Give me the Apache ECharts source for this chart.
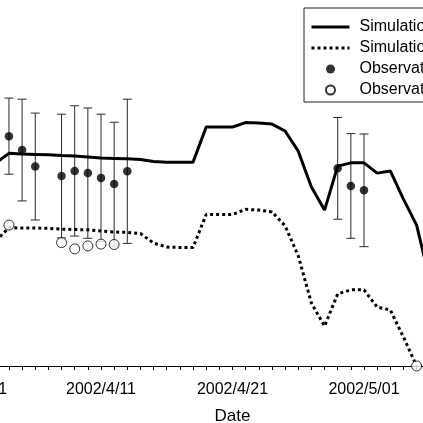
<!DOCTYPE html>
<html>
<head>
<meta charset="utf-8">
<script src="https://cdn.jsdelivr.net/npm/echarts@6/dist/echarts.min.js"></script>
<style>
html,body{margin:0;padding:0;background:#fff;}
#chart{width:423px;height:423px;}
</style>
</head>
<body>
<div id="chart"></div>
<script>
// Day numbers counted from 2002/4/0 (May 1 = 31)
const simDays = [3,4,5,6,7,8,9,10,11,12,13,14,15,16,17,18,19,20,21,22,23,24,25,26,27,28,29,30,31,32,33,34,35,36];
const sim1 = [55.5,58.1,57.9,57.8,57.7,57.5,57.4,57.1,56.8,56.7,56.6,56.4,55.9,55.7,55.7,55.7,65.3,65.3,65.3,66.5,66.4,66.1,64.2,58.7,48.9,42.6,54.6,55.5,55.5,52.7,53.3,45.6,38.5,23.5];
const sim2Days = [3,4,5,6,7,8,9,10,11,12,13,14,15,16,17,18,19,20,21,22,23,24,25,26,27,28,29,30,31,32,33,34,35];
const sim2 = [34.2,37.8,37.7,37.7,37.6,37.4,37.3,37.2,36.9,36.6,36.5,36.2,33.6,32.5,32.4,32.4,41.4,41.4,41.4,42.8,42.6,42.1,38.3,30.1,17.2,10.9,19.7,20.8,20.8,16.1,15.3,7.9,0];
const obs1Days = [4,5,6,8,9,10,11,12,13,29,30,31];
const obs1Mean = [62.8,59.0,54.5,51.9,53.3,52.7,51.4,49.7,53.2,54.0,49.2,48.0];
const obs1Err  = [10.4,13.9,14.6,16.9,17.8,17.8,17.4,16.9,19.7,13.9,14.3,15.4];
const obs2Days = [4,8,9,10,11,12,35];
const obs2Vals = [38.5,33.7,32.0,32.8,33.3,33.2,0];
const tickDays = [1,11,21,31,41];
const tickLabels = ['2002/4/1','2002/4/11','2002/4/21','2002/5/01','2002/5/11'];
const seriesNames = ['Simulation (irrigated)','Simulation (rainfed)','Observation (irrigated)','Observation (rainfed)'];

const FONT = "'Liberation Sans', Arial, sans-serif";
const zip = (a,b) => a.map((v,i)=>[v,b[i]]);
const errData = obs1Days.map((d,i)=>[d, obs1Mean[i]-obs1Err[i], obs1Mean[i]+obs1Err[i]]);

const chart = echarts.init(document.getElementById('chart'), null, {renderer:'canvas'});
chart.setOption({
  backgroundColor:'#ffffff',
  animation:false,
  grid:{left:-43.65, right:-85.65, top:0, bottom:57, containLabel:false, outerBoundsMode:'none'},
  legend:{
    orient:'vertical', left:304, top:8,
    padding:[11,6,4,6], itemGap:5, itemWidth:38, itemHeight:9,
    borderColor:'#222', borderWidth:1, backgroundColor:'#fff',
    textStyle:{fontFamily:FONT, fontSize:16, color:'#000', padding:[0,0,0,5]},
    data:[
      {name:seriesNames[0], itemStyle:{opacity:0}, lineStyle:{width:3, color:'#000'}},
      {name:seriesNames[1], itemStyle:{opacity:0}, lineStyle:{width:3, color:'#000', type:[3,3]}},
      {name:seriesNames[2]},
      {name:seriesNames[3]}
    ]
  },
  xAxis:{
    type:'value', min:0, max:42, interval:1,
    name:'Date', nameLocation:'middle', nameGap:42,
    nameTextStyle:{fontFamily:FONT, fontSize:17, color:'#000'},
    axisLine:{show:true, lineStyle:{color:'#000', width:1}},
    axisTick:{show:true, length:4, lineStyle:{color:'#000', width:1}},
    splitLine:{show:false},
    axisLabel:{
      margin:16, fontFamily:FONT, fontSize:16, color:'#000', hideOverlap:false,
      showMinLabel:true, showMaxLabel:true,
      rich:{first:{fontFamily:FONT, fontSize:16, color:'#000', padding:[0,0,0,13]}},
      formatter:v => {
        const k = tickDays.indexOf(Math.round(v));
        if (k < 0) return '';
        return k === 0 ? '{first|' + tickLabels[k] + '}' : tickLabels[k];
      }
    }
  },
  yAxis:{type:'value', min:0, max:100, show:false, splitLine:{show:false}},
  series:[
    {
      type:'custom', name:'errbars', silent:true, z:1,
      data:errData, encode:{x:0, y:[1,2]}, clip:false,
      renderItem:(params, api) => {
        const x = api.value(0);
        const p1 = api.coord([x, api.value(1)]);
        const p2 = api.coord([x, api.value(2)]);
        const hw = 4.5;
        const st = {stroke:'#2a2a2a', lineWidth:1};
        return {type:'group', children:[
          {type:'line', shape:{x1:p1[0], y1:p1[1], x2:p2[0], y2:p2[1]}, style:st},
          {type:'line', shape:{x1:p1[0]-hw, y1:p1[1], x2:p1[0]+hw, y2:p1[1]}, style:st},
          {type:'line', shape:{x1:p2[0]-hw, y1:p2[1], x2:p2[0]+hw, y2:p2[1]}, style:st}
        ]};
      }
    },
    {
      type:'line', name:seriesNames[0], data:zip(simDays, sim1), symbol:'none', z:2,
      lineStyle:{color:'#000', width:3}, itemStyle:{color:'#000'}, clip:false
    },
    {
      type:'line', name:seriesNames[1], data:zip(sim2Days, sim2), symbol:'none', z:2,
      lineStyle:{color:'#000', width:3, type:[3,3], cap:'butt'}, itemStyle:{color:'#000'}, clip:false
    },
    {
      type:'scatter', name:seriesNames[2], data:zip(obs1Days, obs1Mean), symbol:'circle', symbolSize:8.5, z:3,
      itemStyle:{color:'#000'}, clip:false
    },
    {
      type:'scatter', name:seriesNames[3], data:zip(obs2Days, obs2Vals), symbol:'circle', symbolSize:10, z:4,
      itemStyle:{color:'#fff', borderColor:'#000', borderWidth:1}, clip:false
    }
  ]
});
</script>
</body>
</html>
